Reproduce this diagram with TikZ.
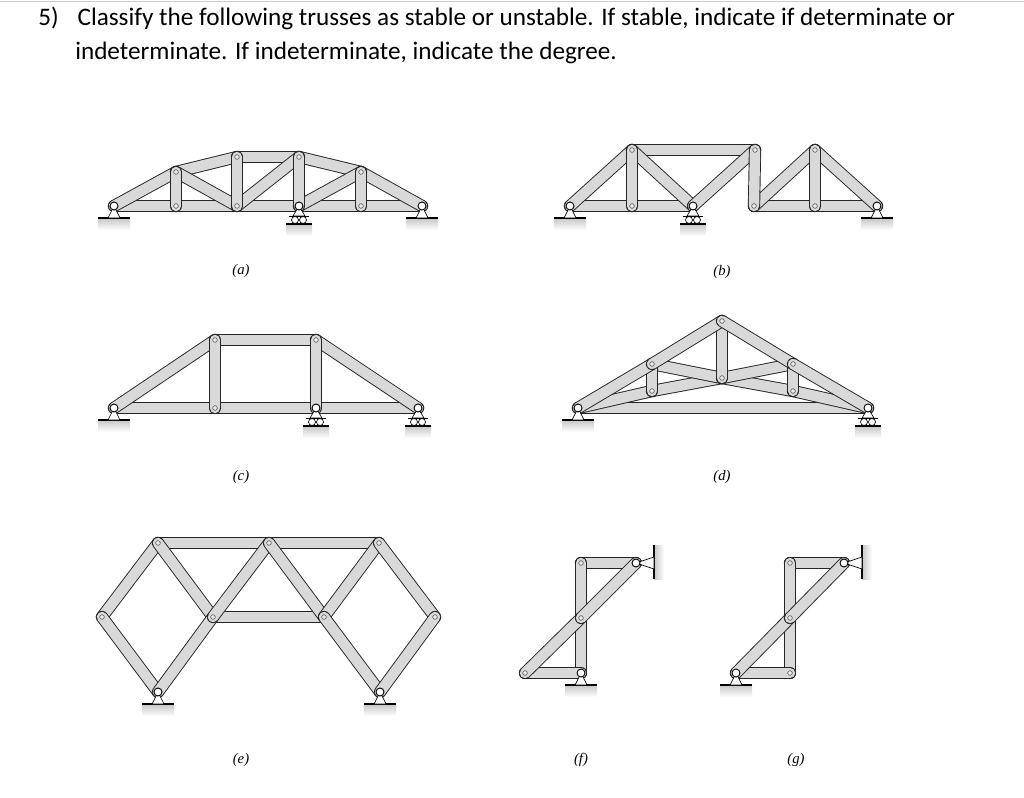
\documentclass[tikz,border=0pt]{standalone}
\usepackage{fontspec}
\setmainfont{Carlito}
\newfontfamily\serf{Liberation Serif}
\tikzset{
  outl/.style={line width=9.2pt,draw=black!85,line cap=round},
  fil/.style={line width=7.8pt,draw=gray!30,line cap=round},
  pinhole/.style={circle,draw=black!70,fill=gray!15,inner sep=0pt,minimum size=3.5pt,line width=0.4pt},
  bigpin/.style={circle,draw=black,fill=white,inner sep=0pt,minimum size=6pt,line width=0.7pt},
  grnd/.style={top color=gray!45,bottom color=white,draw=none},
  lab/.style={font=\serf\itshape\fontsize{11}{13}\selectfont},
  ttl/.style={font=\fontsize{18.9}{22}\selectfont,anchor=base west,inner sep=0pt}
}
\newcommand\mem[2]{\draw[outl] (#1)--(#2);\draw[fil] (#1)--(#2);}
\newcommand\pins[1]{\foreach \p in {#1}{\node[pinhole] at (\p) {};}}
\newcommand\pinsup[1]{%
  \fill[grnd] ($(#1)+(-16,12)$) rectangle ($(#1)+(16,24)$);
  \draw[line width=0.8pt] ($(#1)+(-16,12)$) -- ($(#1)+(16,12)$);
  \draw[line width=0.5pt,fill=white] (#1) -- ($(#1)+(-6,12)$) -- ($(#1)+(6,12)$) -- cycle;
  \node[bigpin] at (#1) {};}
\newcommand\rolsup[1]{%
  \fill[grnd] ($(#1)+(-13,18)$) rectangle ($(#1)+(13,30)$);
  \draw[line width=0.8pt] ($(#1)+(-13,18)$) -- ($(#1)+(13,18)$);
  \draw[line width=0.5pt,fill=white] (#1) -- ($(#1)+(-6,10)$) -- ($(#1)+(6,10)$) -- cycle;
  \draw[line width=0.5pt] ($(#1)+(-10,10)$) -- ($(#1)+(10,10)$);
  \draw[line width=0.5pt,fill=white] ($(#1)+(-4,14)$) circle (3.5) ($(#1)+(4,14)$) circle (3.5);
  \node[bigpin] at (#1) {};}
\usetikzlibrary{calc}
\begin{document}
\begin{tikzpicture}[x=0.75pt,y=-0.75pt]
\useasboundingbox (0,0) rectangle (1024,798);
\draw[gray!40,line width=0.5pt] (0,1) -- (1024,1);
\node[ttl] (t1) at (38,26) {5)\hspace{0.75em}Classify the following trusses as stable or unstable. If stable, indicate if determinate or};
\node[ttl] (t2) at (75,60) {indeterminate. If indeterminate, indicate the degree.};
% (a)
\coordinate (a1) at (114,206); \coordinate (a2) at (176,206); \coordinate (a3) at (237,206);
\coordinate (a4) at (299,206); \coordinate (a5) at (361,206); \coordinate (a6) at (422,206);
\coordinate (a7) at (176,172); \coordinate (a8) at (237,157); \coordinate (a9) at (299,157); \coordinate (a10) at (361,172);
\mem{a1}{a6}
\mem{a1}{a7}\mem{a7}{a8}\mem{a8}{a9}\mem{a9}{a10}\mem{a10}{a6}
\mem{a7}{a3}\mem{a3}{a9}\mem{a4}{a10}
\mem{a7}{a2}\mem{a8}{a3}\mem{a9}{a4}\mem{a10}{a5}
\pins{a2,a3,a5,a7,a8,a9,a10}
\pinsup{a1}\rolsup{a4}\pinsup{a6}
\node[lab] (la) at (241,271) {(a)};
% (b)
\coordinate (b1) at (570,206); \coordinate (b2) at (632,150); \coordinate (b3) at (632,206);
\coordinate (b4) at (693,206); \coordinate (b5) at (755,150); \coordinate (b6) at (754,206);
\coordinate (b7) at (815,150); \coordinate (b8) at (815,206); \coordinate (b9) at (877,206);
\mem{b1}{b4}\mem{b1}{b2}\mem{b2}{b5}\mem{b2}{b4}\mem{b4}{b5}
\mem{b6}{b9}\mem{b6}{b7}\mem{b7}{b9}\mem{b5}{b6}
\mem{b2}{b3}\mem{b7}{b8}
\pins{b2,b3,b5,b6,b7,b8}
\pinsup{b1}\rolsup{b4}\pinsup{b9}
\node[lab] (lb) at (722,272) {(b)};
% (c)
\coordinate (c1) at (114,408); \coordinate (c2) at (215,340); \coordinate (c3) at (316,340);
\coordinate (c4) at (215,408); \coordinate (c5) at (316,408); \coordinate (c6) at (418,408);
\mem{c1}{c6}\mem{c1}{c2}\mem{c2}{c3}\mem{c3}{c6}\mem{c2}{c4}\mem{c3}{c5}
\pins{c2,c3,c4}
\pinsup{c1}\rolsup{c5}\rolsup{c6}
\node[lab] (lc) at (241,477) {(c)};
% (d)
\coordinate (d1) at (578,408); \coordinate (d2) at (722,321); \coordinate (d3) at (652,364);
\coordinate (d4) at (652,391); \coordinate (d5) at (722,378); \coordinate (d6) at (793,364);
\coordinate (d7) at (793,391); \coordinate (d8) at (868,408);
\mem{d1}{d8}\mem{d1}{d4}\mem{d4}{d5}\mem{d5}{d7}\mem{d7}{d8}
\mem{d3}{d5}\mem{d5}{d6}
\mem{d3}{d4}\mem{d6}{d7}\mem{d2}{d5}
\mem{d1}{d3}\mem{d3}{d2}\mem{d2}{d6}\mem{d6}{d8}
\pins{d2,d3,d4,d5,d6,d7}
\pinsup{d1}\rolsup{d8}
\node[lab] (ld) at (722,477) {(d)};
% (e)
\coordinate (e1) at (102,617); \coordinate (e2) at (158,543); \coordinate (e3) at (158,692);
\coordinate (e4) at (213,617); \coordinate (e5) at (269,543); \coordinate (e6) at (324,617);
\coordinate (e7) at (379,543); \coordinate (e8) at (380,692); \coordinate (e9) at (435,617);
\mem{e2}{e7}\mem{e4}{e6}
\mem{e1}{e2}\mem{e1}{e3}\mem{e2}{e4}\mem{e3}{e4}\mem{e4}{e5}
\mem{e5}{e6}\mem{e6}{e7}\mem{e6}{e8}\mem{e7}{e9}\mem{e8}{e9}
\pins{e1,e2,e4,e5,e6,e7,e9}
\pinsup{e3}\pinsup{e8}
\node[lab] (le) at (241,760) {(e)};
% (f)
\coordinate (f1) at (581,563); \coordinate (f2) at (636,563); \coordinate (f3) at (581,618);
\coordinate (f4) at (525,673); \coordinate (f5) at (581,673);
\mem{f1}{f2}\mem{f1}{f3}\mem{f3}{f5}\mem{f4}{f5}\mem{f4}{f3}\mem{f3}{f2}
\pins{f1,f3,f4}
\pinsup{f5}
\fill[left color=gray!45,right color=white] (654,545) rectangle (664,579);
\draw[line width=0.8pt] (654,545) -- (654,579);
\draw[line width=0.5pt,fill=white] (f2) -- (654,557) -- (654,569) -- cycle;
\node[bigpin] at (f2) {};
\node[lab] (lf) at (581,760) {(f)};
% (g)
\coordinate (g1) at (790,563); \coordinate (g2) at (844,563); \coordinate (g3) at (790,618);
\coordinate (g4) at (736,673); \coordinate (g5) at (790,673);
\mem{g1}{g2}\mem{g1}{g3}\mem{g3}{g5}\mem{g4}{g5}\mem{g4}{g3}\mem{g3}{g2}
\pins{g1,g3,g5}
\pinsup{g4}
\fill[left color=gray!45,right color=white] (862,545) rectangle (872,579);
\draw[line width=0.8pt] (862,545) -- (862,579);
\draw[line width=0.5pt,fill=white] (g2) -- (862,557) -- (862,569) -- cycle;
\node[bigpin] at (g2) {};
\node[lab] (lg) at (796,760) {(g)};
\end{tikzpicture}
\end{document}
